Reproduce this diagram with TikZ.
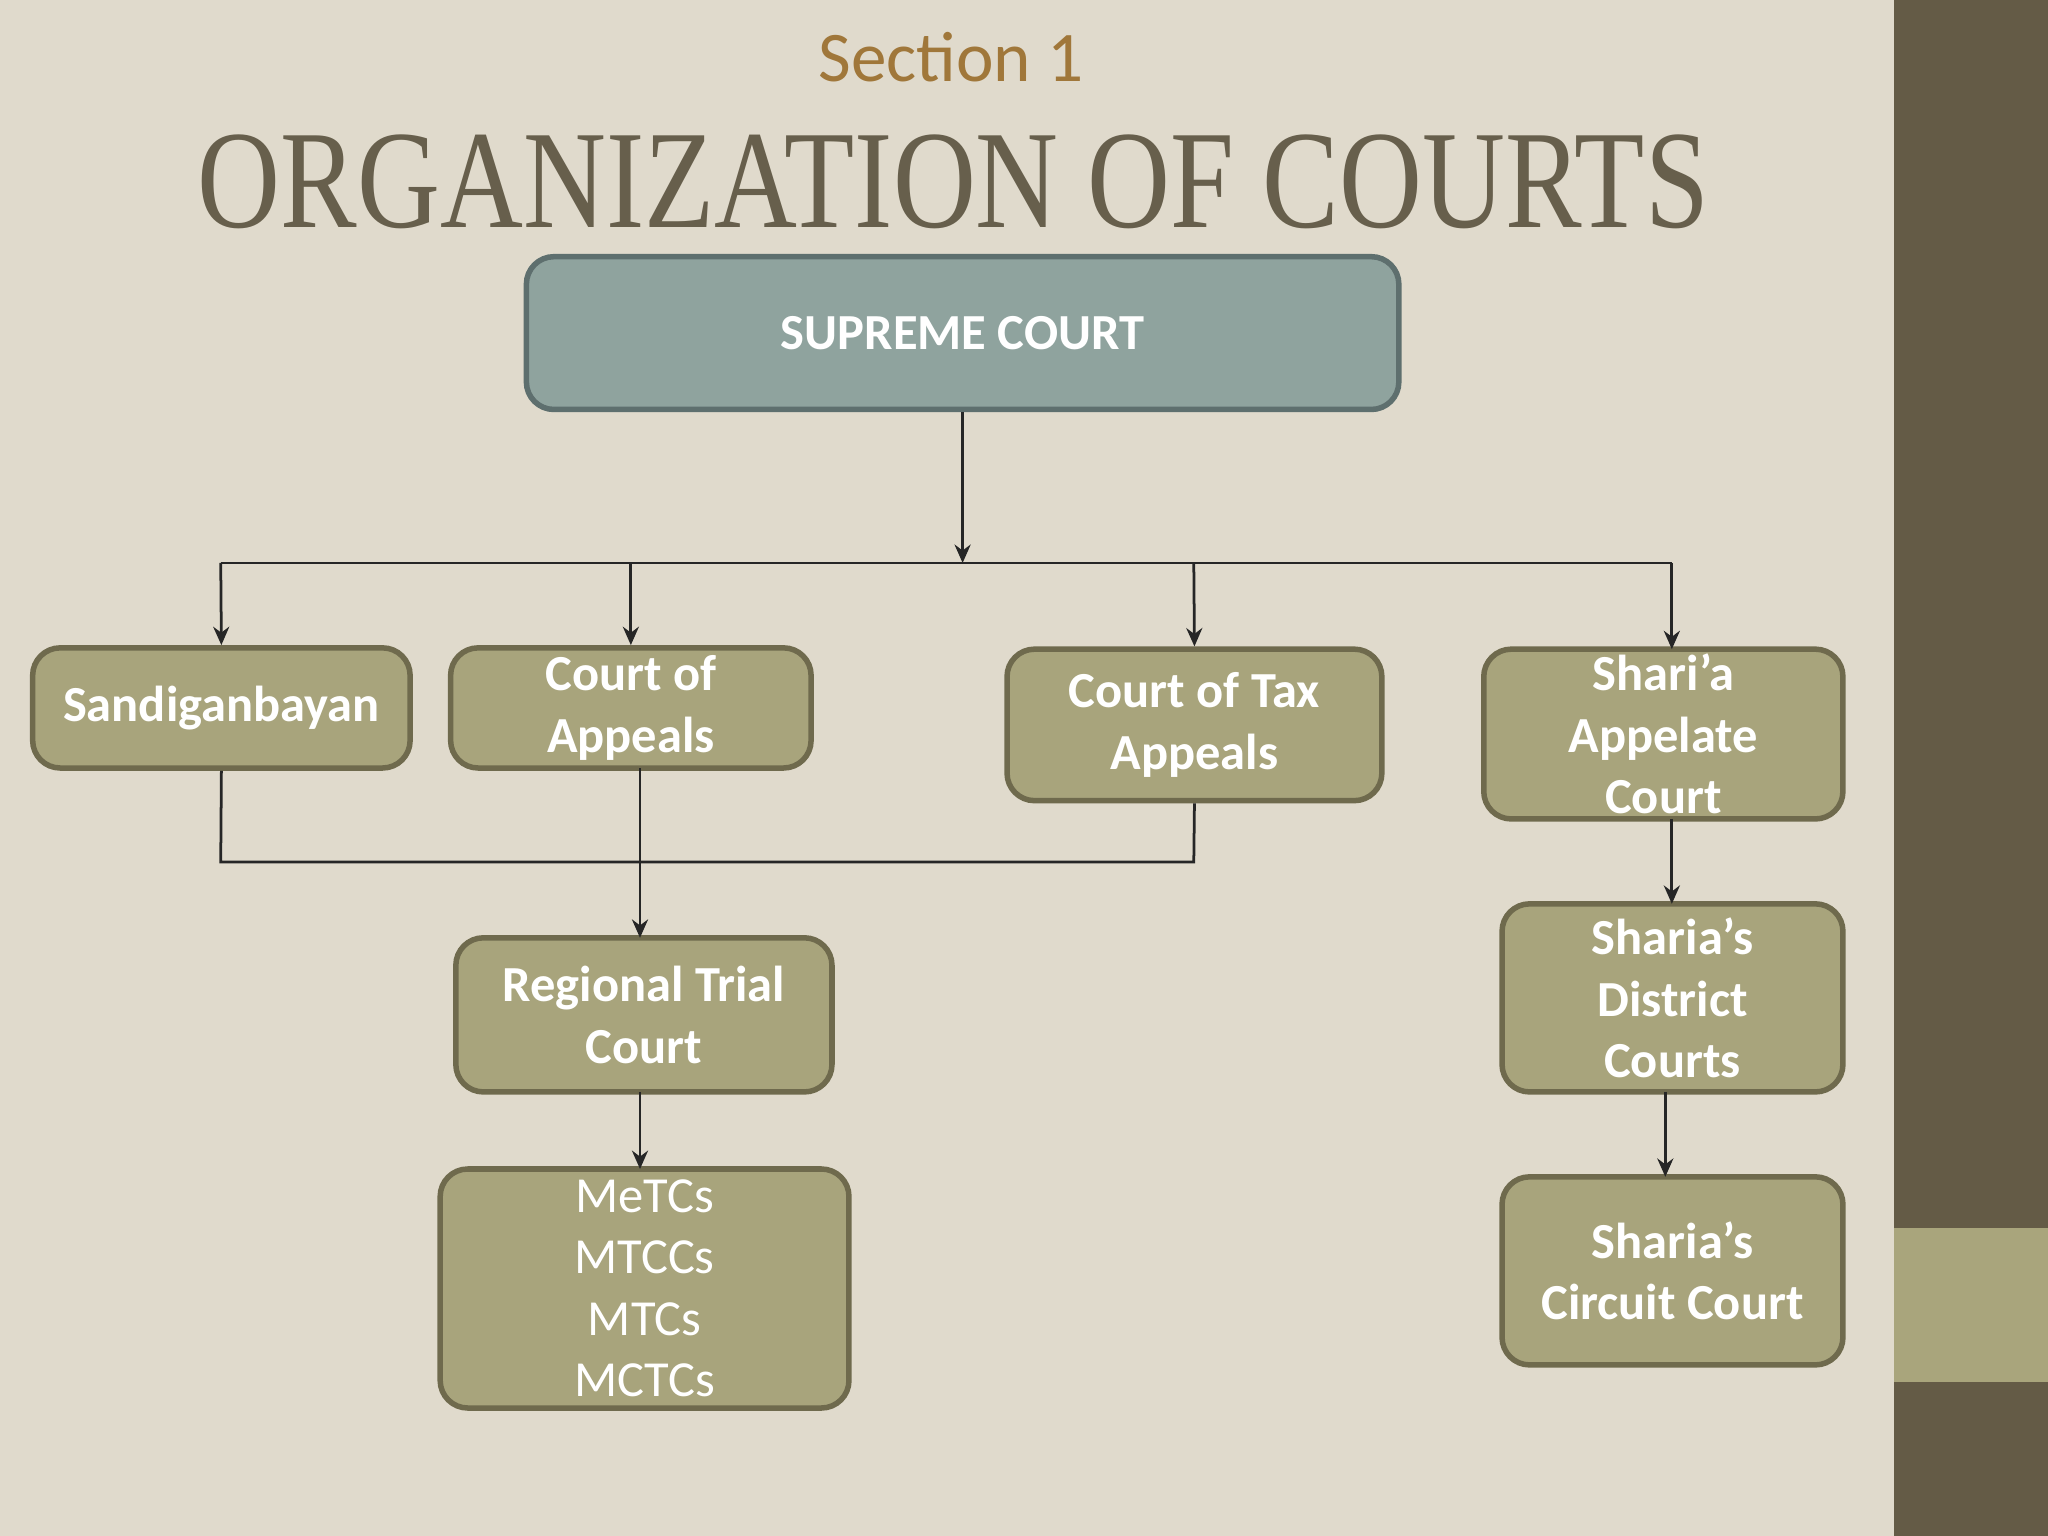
\documentclass[tikz,border=0pt]{standalone}
\usepackage{fontspec}
\setmainfont{Carlito}
\newfontfamily\titlefont{Liberation Serif}
\usetikzlibrary{arrows.meta}
\definecolor{bg}{HTML}{E0DACC}
\definecolor{barD}{HTML}{645B46}
\definecolor{barL}{HTML}{A9A57C}
\definecolor{boxF}{HTML}{A8A47C}
\definecolor{boxD}{HTML}{6F6A4D}
\definecolor{supF}{HTML}{8FA39E}
\definecolor{supD}{HTML}{5E6F6E}
\definecolor{titleC}{HTML}{675F4C}
\definecolor{secC}{HTML}{A0773A}
\begin{document}
\begin{tikzpicture}[x=0.1mm,y=-0.1mm,
  box/.style={draw=boxD,fill=boxF,line width=1.2pt,rounded corners=6pt,text=white,align=center,font=\fontsize{11}{13.4}\selectfont\bfseries,inner sep=0pt},
  con/.style={draw=black!85,line width=0.6pt},
  arr/.style={con,-{Stealth[length=4pt,width=3.5pt]}}]
\path[use as bounding box,fill=bg] (0,0) rectangle (1568,1176);
\fill[barD] (1450,0) rectangle (1568,1176);
\fill[barL] (1450,940) rectangle (1568,1058);
\node[text=secC,font=\fontsize{15.5}{18}\selectfont] (sec) at (728,44) {Section 1};
\node[text=titleC,font=\titlefont\fontsize{30.5}{34}\selectfont,xscale=0.82,transform shape] (title) at (730,139) {ORGANIZATION OF COURTS};
\node[box,draw=supD,fill=supF,minimum width=66.8mm,minimum height=11.7mm] (sc) at (737,255) {SUPREME COURT};
\node[box,minimum width=28.9mm,minimum height=9.2mm] (sb) at (169.5,542) {Sandiganbayan};
\node[box,minimum width=27.6mm,minimum height=9.2mm] (ca) at (483,542) {Court of\\Appeals};
\node[box,minimum width=28.7mm,minimum height=11.6mm] (cta) at (914.5,555) {Court of Tax\\Appeals};
\node[box,minimum width=27.5mm,minimum height=13mm] (sha) at (1273.5,562) {Shari’a\\Appelate\\Court};
\node[box,minimum width=26.1mm,minimum height=14.4mm] (sdc) at (1280.5,764) {Sharia’s\\District\\Courts};
\node[box,minimum width=26.1mm,minimum height=14.4mm] (scc) at (1280.5,973) {Sharia’s\\Circuit Court};
\node[box,minimum width=28.8mm,minimum height=11.8mm] (rtc) at (493,777) {Regional Trial\\Court};
\node[box,font=\fontsize{11}{13.4}\selectfont,minimum width=31.3mm,minimum height=18.3mm] (mtc) at (493.5,986.5) {MeTCs\\MTCCs\\MTCs\\MCTCs};
\coordinate (j) at (737,431);
\coordinate (jl) at (169,431);
\coordinate (jr) at (1280,431);
\coordinate (b1) at (169,660);
\coordinate (b2) at (914,660);
\draw[arr] (sc.south) -- (j);
\draw[con] (jl) -- (jr);
\draw[arr] (jl) -- (sb.north);
\draw[arr] (483,431) -- (ca.north);
\draw[arr] (914,431) -- (cta.north);
\draw[arr] (jr) -- (1280,497);
\draw[con] (sb.south) -- (b1) -- (b2) -- (cta.south);
\draw[arr] (490,588) -- (490,718);
\draw[arr] (490,836) -- (490,895);
\draw[arr] (1280,627) -- (1280,692);
\draw[arr] (1275,836) -- (1275,901);
\end{tikzpicture}
\end{document}
